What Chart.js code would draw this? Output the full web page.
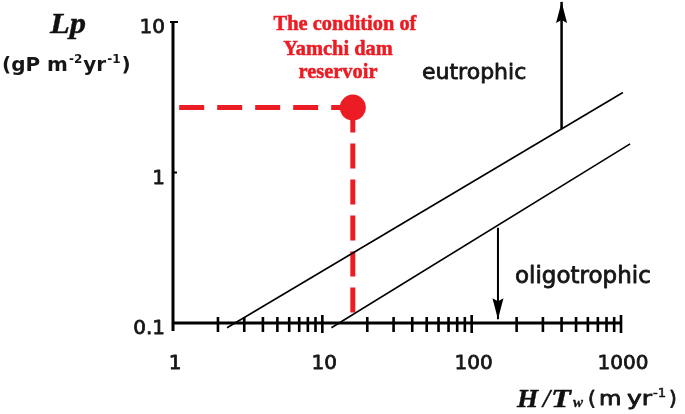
<!DOCTYPE html>
<html>
<head>
<meta charset="utf-8">
<script src="https://cdn.jsdelivr.net/npm/chart.js@4/dist/chart.umd.min.js"></script>
<style>
  html, body { margin: 0; padding: 0; background: #fff; }
  canvas { display: block; }
</style>
</head>
<body>
<canvas id="chart" width="685" height="414"></canvas>
<script>
// Data ------------------------------------------------------------------------------

const X_TICK_LABELS = [1, 10, 100, 1000];
const Y_TICK_LABELS = [0.1, 1, 10];
const MINOR_MANTISSAS = [2, 3, 4, 5, 6, 7, 8, 9];

// boundary lines (eutrophic / oligotrophic)
const upperLineX = [2.3, 1030];
const upperLineY = [0.093, 3.4];
const lowerLineX = [11.5, 1150];
const lowerLineY = [0.093, 1.55];

// arrows off the boundary lines
const eutroArrowX = [400, 400];
const eutroArrowY = [1.95, 13.6];
const oligoArrowX = [150, 150];
const oligoArrowY = [0.43, 0.106];

// the reservoir
const damX = [16];
const damY = [2.7];

// Constants -------------------------------------------------------------------------

const RED = '#ec1c24';
const INK = '#161616';
const SANS = '"DejaVu Sans", sans-serif';
const SERIF = '"Liberation Serif", "Times New Roman", serif';

// Helpers ---------------------------------------------------------------------------

let toPoints = function (xs, ys) {
    return xs.map(function (x, i) { return {x: x, y: ys[i]}; });
};

let lineSet = function (xs, ys, color, width, dash) {
    return {
        data: toPoints(xs, ys),
        showLine: true,
        borderColor: color,
        borderWidth: width,
        borderDash: dash || [],
        pointRadius: 0,
        pointHoverRadius: 0,
        clip: false
    };
};

// one piece of text; heavy > 0 thickens it with a thin outline
let drawText = function (ctx, text, x, y, font, color, align, sx, heavy) {
    ctx.save();
    ctx.font = font;
    ctx.fillStyle = color;
    ctx.strokeStyle = color;
    ctx.textAlign = align || 'left';
    ctx.textBaseline = 'alphabetic';
    ctx.translate(x, y);
    ctx.scale(sx || 1, 1);
    ctx.fillText(text, 0, 0);
    if (heavy) {
        ctx.lineWidth = heavy;
        ctx.lineJoin = 'round';
        ctx.strokeText(text, 0, 0);
    }
    ctx.restore();
};

// a row of runs: [text, font, dx, dy]
let drawRuns = function (ctx, x, y, runs, color, heavy) {
    let cx = x;
    runs.forEach(function (r) {
        cx += r[2] || 0;
        drawText(ctx, r[0], cx, y + (r[3] || 0), r[1], color, 'left', 1, heavy);
        ctx.save();
        ctx.font = r[1];
        cx += ctx.measureText(r[0]).width;
        ctx.restore();
    });
};

// Plugins ---------------------------------------------------------------------------

const axesPlugin = {
    id: 'crossAxes',
    beforeDatasetsDraw: function (chart) {
        let ctx = chart.ctx;
        let xs = chart.scales.x;
        let ys = chart.scales.y;
        let x0 = xs.getPixelForValue(1);
        let x1 = xs.getPixelForValue(1000);
        let y0 = ys.getPixelForValue(0.1);
        let yTop = ys.getPixelForValue(10);

        ctx.save();
        ctx.strokeStyle = '#000';
        ctx.lineWidth = 3;
        ctx.beginPath();
        ctx.moveTo(x0, yTop);
        ctx.lineTo(x0, y0 + 8);
        ctx.moveTo(x0, y0);
        ctx.lineTo(x1, y0);
        ctx.stroke();

        // y ticks
        ctx.lineWidth = 2;
        ctx.beginPath();
        ctx.moveTo(x0 - 3, yTop);
        ctx.lineTo(x0 + 5, yTop);
        let y1 = ys.getPixelForValue(1);
        ctx.moveTo(x0, y1);
        ctx.lineTo(x0 + 4, y1);
        ctx.stroke();

        // x ticks, crossing the axis
        ctx.lineWidth = 2.6;
        ctx.beginPath();
        [1, 10, 100].forEach(function (decade) {
            MINOR_MANTISSAS.forEach(function (m) {
                let px = xs.getPixelForValue(decade * m);
                ctx.moveTo(px, y0 - 6);
                ctx.lineTo(px, y0 + 9);
            });
        });
        [10, 100, 1000].forEach(function (v) {
            let px = xs.getPixelForValue(v);
            ctx.moveTo(px, y0 - 8);
            ctx.lineTo(px, y0 + 10);
        });
        ctx.stroke();
        ctx.restore();
    }
};

const arrowPlugin = {
    id: 'arrowHeads',
    afterDatasetsDraw: function (chart) {
        let ctx = chart.ctx;
        chart.data.datasets.forEach(function (ds, i) {
            if (!ds.arrowHead) {
                return;
            }
            let pts = chart.getDatasetMeta(i).data;
            let a = pts[pts.length - 2];
            let b = pts[pts.length - 1];
            let ang = Math.atan2(b.y - a.y, b.x - a.x);
            let len = 21;
            let half = 5.5;
            ctx.save();
            ctx.translate(b.x, b.y);
            ctx.rotate(ang);
            ctx.fillStyle = '#000';
            ctx.beginPath();
            ctx.moveTo(0, 0);
            ctx.lineTo(-len, -half);
            ctx.lineTo(-len + 3, 0);
            ctx.lineTo(-len, half);
            ctx.closePath();
            ctx.fill();
            ctx.restore();
        });
    }
};

const textPlugin = {
    id: 'labels',
    afterDraw: function (chart) {
        let ctx = chart.ctx;
        let xs = chart.scales.x;
        let ys = chart.scales.y;
        let tickFont = '20px ' + SANS;

        X_TICK_LABELS.forEach(function (v) {
            drawText(ctx, String(v), xs.getPixelForValue(v) + 2, 369, tickFont, INK, 'center', 1, 0.8);
        });
        Y_TICK_LABELS.forEach(function (v) {
            drawText(ctx, String(v), 165, ys.getPixelForValue(v) + 11, tickFont, INK, 'right', 1, 0.8);
        });

        // y-axis title
        drawText(ctx, 'Lp', 50, 33, 'bold italic 29px ' + SERIF, '#111', 'left', 1.12, 0.4);
        let f20b = 'bold 20px ' + SANS;
        let f12b = 'bold 12px ' + SANS;
        drawRuns(ctx, 2, 71, [
            ['(gP m', f20b],
            ['-2', f12b, 1, -8],
            ['yr', f20b, 1],
            ['-1', f12b, 1, -8],
            [')', f20b, 1]
        ], INK, 0);

        // x-axis title
        let fi = 'bold italic 26px ' + SERIF;
        drawText(ctx, 'H', 517, 407, fi, '#111', 'left', 1.05, 0.4);
        drawText(ctx, '/', 543, 407, fi, '#111', 'left', 1, 0.4);
        drawText(ctx, 'T', 551, 407, fi, '#111', 'left', 1.25, 0.4);
        drawText(ctx, 'w', 573, 407, 'bold italic 15px ' + SERIF, '#111', 'left', 1, 0.3);
        let f20 = '20px ' + SANS;
        drawText(ctx, '(', 588, 405, f20, INK, 'left', 1, 0.8);
        drawText(ctx, 'm', 599, 405, f20, INK, 'left', 1.15, 0.8);
        drawText(ctx, 'yr', 627, 405, f20, INK, 'left', 1.25, 0.8);
        drawText(ctx, '-1', 653, 397, '12px ' + SANS, INK, 'left', 1.1, 0.5);
        drawText(ctx, ')', 669, 405, f20, INK, 'left', 1, 0.8);

        // region labels
        drawText(ctx, 'eutrophic', 422, 79, '22px ' + SANS, INK, 'left', 1, 0.8);
        drawText(ctx, 'oligotrophic', 515, 283, '23px ' + SANS, INK, 'left', 1, 0.8);

        // reservoir note
        let rf = 'bold 20px ' + SERIF;
        drawText(ctx, 'The condition of', 345, 30, rf, RED, 'center', 1.02, 0.5);
        drawText(ctx, 'Yamchi dam', 338, 55, rf, RED, 'center', 1.02, 0.5);
        drawText(ctx, 'reservoir', 338, 78, rf, RED, 'center', 1.02, 0.5);
    }
};

// Chart -----------------------------------------------------------------------------

let eutroArrow = lineSet(eutroArrowX, eutroArrowY, '#000', 2.5);
eutroArrow.arrowHead = true;
let oligoArrow = lineSet(oligoArrowX, oligoArrowY, '#000', 2);
oligoArrow.arrowHead = true;

const datasets = [
    lineSet(upperLineX, upperLineY, '#000', 1.6),
    lineSet(lowerLineX, lowerLineY, '#000', 1.6),
    eutroArrow,
    oligoArrow,
    lineSet([1.1, damX[0]], [damY[0], damY[0]], RED, 5, [25, 13]),
    lineSet([damX[0], damX[0]], [damY[0], 0.1], RED, 5, [25, 11]),
    {
        data: toPoints(damX, damY),
        pointRadius: 13,
        pointHoverRadius: 13,
        pointBackgroundColor: RED,
        pointBorderWidth: 0,
        showLine: false,
        clip: false
    }
];

new Chart(document.getElementById('chart').getContext('2d'), {
    type: 'scatter',
    data: {datasets: datasets},
    options: {
        responsive: false,
        animation: false,
        events: [],
        layout: {padding: {left: 173, right: 64, top: 22, bottom: 91}},
        plugins: {legend: {display: false}, tooltip: {enabled: false}},
        scales: {
            x: {type: 'logarithmic', min: 1, max: 1000, display: false},
            y: {type: 'logarithmic', min: 0.1, max: 10, display: false}
        }
    },
    plugins: [axesPlugin, arrowPlugin, textPlugin]
});
</script>
</body>
</html>
